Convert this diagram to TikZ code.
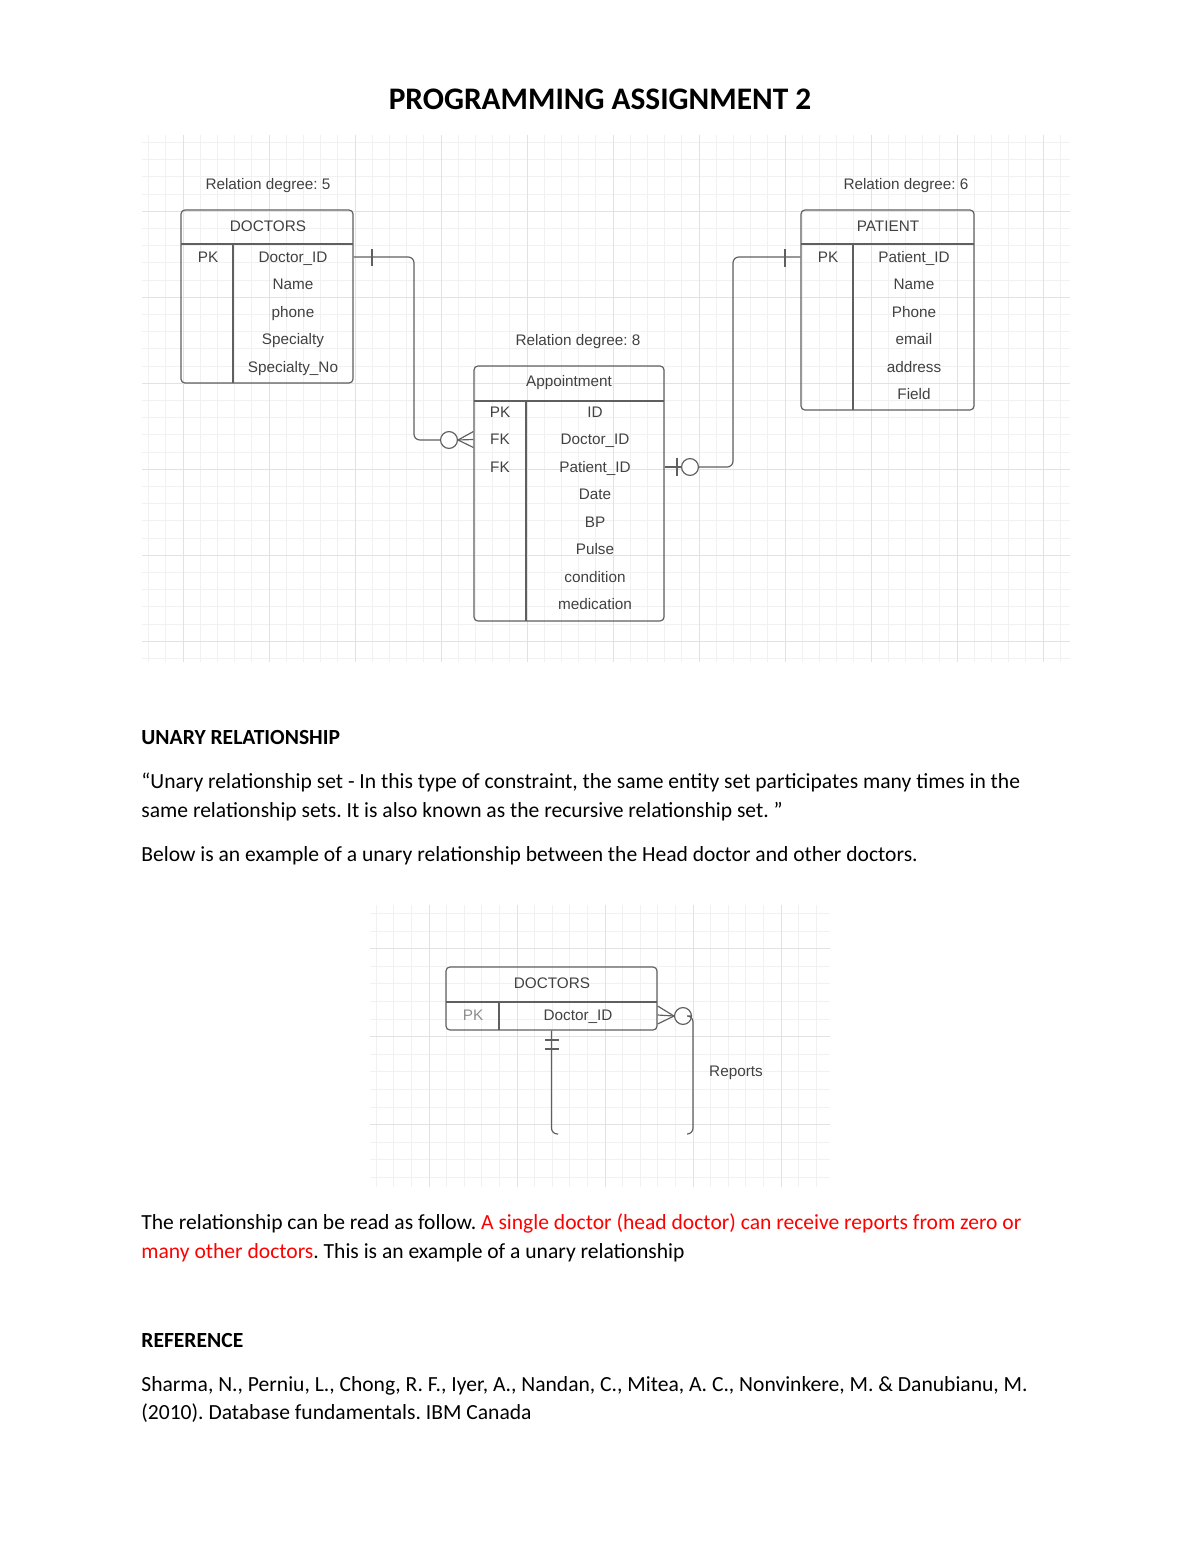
\documentclass[tikz,border=0pt]{standalone}
\usepackage{fontspec}
\setmainfont{Carlito}
\newfontfamily\diagfont{Liberation Sans}
\usetikzlibrary{fit,calc}
\frenchspacing
\definecolor{ink}{RGB}{95,95,95}
\definecolor{txt}{RGB}{65,65,65}
\definecolor{gridlt}{RGB}{241,241,241}
\definecolor{griddk}{RGB}{226,226,226}
\tikzset{
  ent/.style={draw=ink,rounded corners=2pt,inner sep=0pt,line width=0.6pt},
  sep/.style={draw=ink,line width=0.6pt},
  fld/.style={font=\diagfont\fontsize{7.8}{9}\selectfont,text=txt,inner sep=1pt,
    text height=5.6pt,text depth=0pt},
  lnk/.style={draw=ink,line width=0.6pt,rounded corners=3pt},
  zero/.style={circle,draw=ink,fill=white,line width=0.6pt,minimum size=8.6pt,inner sep=0pt},
  body/.style={anchor=base west,inner sep=0pt,font=\fontsize{11}{13}\selectfont},
  head/.style={body,font=\fontsize{11}{13}\selectfont\bfseries},
  gridf/.style={draw=gridlt,line width=0.5pt},
  gridm/.style={draw=griddk,line width=0.5pt},
}
\begin{document}
\begin{tikzpicture}[x=0.51pt,y=-0.51pt]
  \useasboundingbox (0,0) rectangle (1200,1553);
  \node[anchor=base,inner sep=0pt,font=\fontsize{16}{19}\selectfont\bfseries] (title) at (600,110) {PROGRAMMING ASSIGNMENT 2};

  % ER diagram: grid
  \foreach \i in {-17,...,36} \draw[gridf] ({441+17.2*\i},135) -- ({441+17.2*\i},662);
  \foreach \i in {-19,...,11} \draw[gridf] (142,{469.3+17.2*\i}) -- (1070,{469.3+17.2*\i});
  \foreach \i in {-15,-10,...,35} \draw[gridm] ({441+17.2*\i},135) -- ({441+17.2*\i},662);
  \foreach \i in {-15,-10,...,10} \draw[gridm] (142,{469.3+17.2*\i}) -- (1070,{469.3+17.2*\i});

  % DOCTORS
  \node[fld] (degdoc) at (268,184) {Relation degree: 5};
  \node[ent,fit={(181,210) (353,383)}] (doc) {};
  \draw[sep] (181,244) -- (353,244);
  \draw[sep] (233,244) -- (233,383);
  \node[fld] (doctitle) at (268,226) {DOCTORS};
  \node[fld] (docpk) at (208,257) {PK};
  \foreach \t [count=\i] in {Doctor\_ID,Name,phone,Specialty,Specialty\_No}
    \node[fld] (d\i) at (293,{257+27.5*(\i-1)}) {\t};

  % PATIENT
  \node[fld] (degpat) at (906,184) {Relation degree: 6};
  \node[ent,fit={(801,210) (974,410)}] (pat) {};
  \draw[sep] (801,244) -- (974,244);
  \draw[sep] (853,244) -- (853,410);
  \node[fld] (pattitle) at (888,226) {PATIENT};
  \node[fld] (patpk) at (828,257) {PK};
  \foreach \t [count=\i] in {Patient\_ID,Name,Phone,email,address,Field}
    \node[fld] (p\i) at (914,{257+27.5*(\i-1)}) {\t};

  % Appointment
  \node[fld] (degapp) at (578,340) {Relation degree: 8};
  \node[ent,fit={(474,366) (664,621)}] (app) {};
  \draw[sep] (474,401) -- (664,401);
  \draw[sep] (526,401) -- (526,621);
  \node[fld] (apptitle) at (569,381) {Appointment};
  \foreach \k [count=\i] in {PK,FK,FK}
    \node[fld] (k\i) at (500,{412+27.5*(\i-1)}) {\k};
  \foreach \t [count=\i] in {ID,Doctor\_ID,Patient\_ID,Date,BP,Pulse,condition,medication}
    \node[fld] (a\i) at (595,{412+27.5*(\i-1)}) {\t};

  % DOCTORS -- Appointment (one to zero-or-many)
  \node[zero] (c1) at (449,440) {};
  \draw[lnk] (doc.east |- d1) -- (414,257) -- (414,440) -- (c1.west);
  \draw[sep] (372,249) -- (372,266);
  \foreach \d in {-8,0,8}
    \draw[sep] (c1.east) -- ($(app.west |- a2)+(0,\d)$);

  % Appointment -- PATIENT (zero-or-one to one)
  \node[zero] (c2) at (690,467) {};
  \draw[sep] (app.east |- a3) -- (c2.west);
  \draw[sep] (677,458) -- (677,476);
  \draw[lnk] (c2.east) -- (733,467) -- (733,257) -- (pat.west |- p1);
  \draw[sep] (785,249) -- (785,267);

  % text
  \node[head] (unary) at (141,744) {UNARY RELATIONSHIP};
  \node[body] (q1) at (141,788) {“Unary relationship set - In this type of constraint, the same entity set participates many times in the};
  \node[body] (q2) at (141,817) {same relationship sets. It is also known as the recursive relationship set. ”};
  \node[body] (below) at (141,861) {Below is an example of a unary relationship between the Head doctor and other doctors.};

  % unary diagram: grid
  \foreach \i in {-13,...,12} \draw[gridf] ({605+17.6*\i},905) -- ({605+17.6*\i},1187);
  \foreach \i in {-7,...,8} \draw[gridf] (370,{1036.7+17.6*\i}) -- (830,{1036.7+17.6*\i});
  \foreach \i in {-10,-5,...,10} \draw[gridm] ({605+17.6*\i},905) -- ({605+17.6*\i},1187);
  \foreach \i in {-5,0,5} \draw[gridm] (370,{1036.7+17.6*\i}) -- (830,{1036.7+17.6*\i});

  \node[ent,fit={(446,967) (657,1030)}] (doc2) {};
  \draw[sep] (446,1002) -- (657,1002);
  \draw[sep] (499,1002) -- (499,1030);
  \node[fld] (doc2title) at (552,983) {DOCTORS};
  \node[fld,text=black!45] (doc2pk) at (473,1015) {PK};
  \node[fld] (r1) at (578,1015) {Doctor\_ID};

  % head doctor side
  \coordinate (hd) at (558,1134);
  \draw[lnk] (doc2.south) -- (doc2.south |- hd) -- (hd);
  \draw[sep] (545,1040) -- (559,1040);
  \draw[sep] (545,1049) -- (559,1049);

  % other doctors side
  \node[zero] (c3) at (683,1016) {};
  \foreach \d in {-9,0,9}
    \draw[sep] (c3.west) -- ($(doc2.east |- r1)+(0,\d)$);
  \coordinate (od) at (687,1134);
  \draw[lnk] (c3.east) -- (693,1016) -- (693,1134) -- (od);
  \node[fld] (rep) at (736,1071) {Reports};

  \node[body] (read1) at (141,1229) {The relationship can be read as follow. \textcolor{red}{A single doctor (head doctor) can receive reports from zero or}};
  \node[body] (read2) at (141,1258) {\textcolor{red}{many other doctors}. This is an example of a unary relationship};

  \node[head] (refh) at (141,1347) {REFERENCE};
  \node[body] (ref1) at (141,1391) {Sharma, N., Perniu, L., Chong, R. F., Iyer, A., Nandan, C., Mitea, A. C., Nonvinkere, M. \& Danubianu, M.};
  \node[body] (ref2) at (141,1419) {(2010). Database fundamentals. IBM Canada};
\end{tikzpicture}
\end{document}
